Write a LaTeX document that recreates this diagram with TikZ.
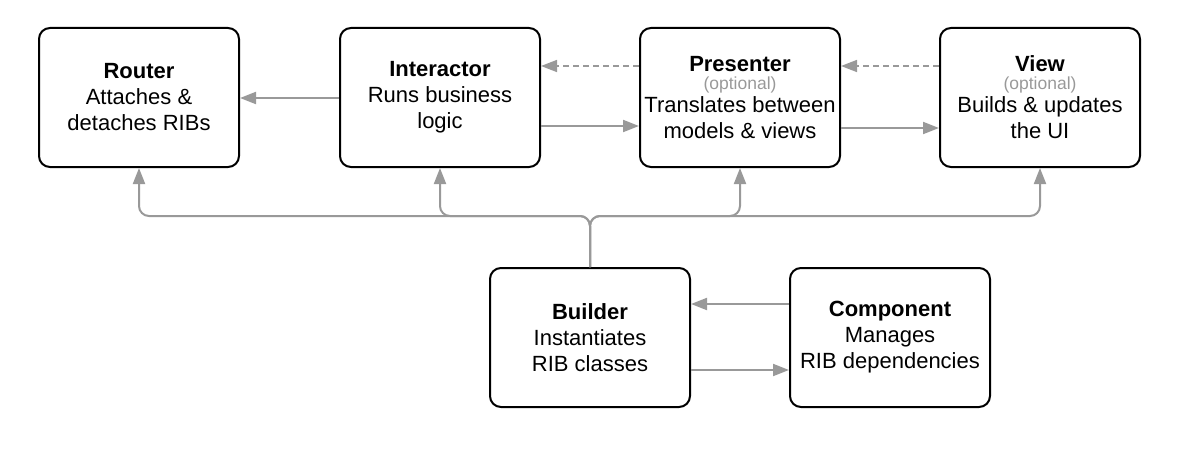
\documentclass[tikz,border=0pt]{standalone}
\usepackage{fontspec}
\setmainfont{Liberation Sans}
\usetikzlibrary{arrows.meta,calc}
\definecolor{arrgray}{HTML}{999999}
\begin{document}
\begin{tikzpicture}[x=1pt,y=-1pt,
  box/.style={draw=black,line width=2pt,rounded corners=11pt,minimum width=200pt,minimum height=139pt,align=center,inner sep=0pt,font=\fontsize{22}{26}\selectfont},
  arr/.style={draw=arrgray,line width=2pt,-{Triangle[length=16pt,width=12pt]}},
  darr/.style={arr,line width=1.5pt,dash pattern=on 6pt off 4pt}
]
\useasboundingbox (0,0) rectangle (1200,460);
\newcommand{\optl}{{\color{arrgray}\fontsize{17.5}{17}\selectfont (optional)}}
\node[box] (router) at (139,97.5) {\textbf{Router}\\Attaches \&\\detaches RIBs};
\node[box] (inter) at (440,97.5) {\textbf{Interactor}\\Runs business\\logic};
\node[box] (pres) at (740,97.5) {\textbf{Presenter}\\[-8pt]\optl\\[-3pt]Translates between\\models \& views};
\node[box] (view) at (1040,97.5) {\textbf{View}\\[-8pt]\optl\\[-3pt]Builds \& updates\\the UI};
\node[box] (build) at (590,337.5) {\textbf{Builder}\\Instantiates\\RIB classes};
\node[box] (comp) at (890,337.5) {\textbf{Component}\\Manages\\RIB dependencies};

\draw[arr] ([yshift=-0.5pt]inter.west) -- ([yshift=-0.5pt]router.east);
\draw[darr] ([yshift=31.5pt]pres.west) -- ([yshift=31.5pt]inter.east);
\draw[arr] ([yshift=-28.5pt]inter.east) -- ([yshift=-28.5pt]pres.west);
\draw[darr] ([yshift=31.5pt]view.west) -- ([yshift=31.5pt]pres.east);
\draw[arr] ([yshift=-30.5pt]pres.east) -- ([yshift=-30.5pt]view.west);

\foreach \t in {router,inter,pres,view}
  \draw[arr,rounded corners=10pt] (build.north) -- ++(0,-51) -| (\t.south);

\draw[arr] ([yshift=33.5pt]comp.west) -- ([yshift=33.5pt]build.east);
\draw[arr] ([yshift=-32.5pt]build.east) -- ([yshift=-32.5pt]comp.west);
\end{tikzpicture}
\end{document}
